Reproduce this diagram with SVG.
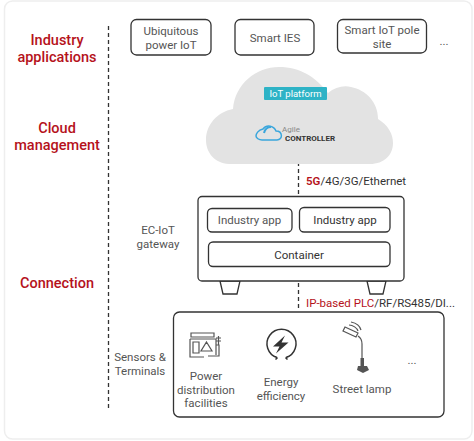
<svg xmlns="http://www.w3.org/2000/svg" width="474" height="441" viewBox="0 0 474 441">
<style>
text{font-family:Roboto,"Noto Sans","Liberation Sans",sans-serif;text-anchor:middle}
.h{font-size:14.500px;font-weight:500;fill:#b5121b}
.t{font-size:11.500px;fill:#555}
.d{font-size:11.500px;fill:#333}
.b{fill:#fff;stroke:#333;stroke-width:1.300}
.c{fill:none;stroke:#333;stroke-width:1.300;stroke-dasharray:4 3}
.i{fill:none;stroke:#555;stroke-width:1.200}
</style>
<rect x="4.500" y="1" width="467.500" height="438" rx="8" fill="#fff" stroke="#eee" stroke-width="1.500"/>
<g id="labels">
<text class="h" x="57" y="45">Industry</text><text class="h" x="57" y="62">applications</text>
<text class="h" x="57" y="133">Cloud</text><text class="h" x="57" y="150">management</text>
<text class="h" x="57" y="288">Connection</text>
<text class="t" x="158" y="234">EC-IoT</text><text class="t" x="158" y="247.500">gateway</text>
<text class="t" x="140" y="361">Sensors &amp;</text><text class="t" x="140" y="375">Terminals</text>
</g>
<g id="connectors">
<path class="c" d="M108.500 26V411"/>
<path class="c" d="M298.500 162V196"/>
<path class="c" d="M298.500 283V310"/>
</g>
<g id="ubiquitous"><rect class="b" x="131" y="19.500" width="80" height="35.500" rx="5.500"/><text class="t" x="171" y="35">Ubiquitous</text><text class="t" x="171" y="49">power IoT</text></g>
<g id="ies"><rect class="b" x="235" y="19.500" width="79" height="35.500" rx="5.500"/><text class="t" x="275" y="42">Smart IES</text></g>
<g id="pole"><rect class="b" x="337.500" y="19.500" width="89" height="33.500" rx="5.500"/><text class="t" x="382" y="34">Smart IoT pole</text><text class="t" x="382" y="48">site</text></g>
<text class="t" x="444" y="45">...</text>
<g id="cloud">
<path fill="#e3e3e3" d="M229 164C214 163 206 152 206 140C206 125 217 112 233 109C235 84 256 67 279 67C300 67 316 77 328 93C335 87 344 85 351 87C366 90 378 102 378 119C388 125 393 134 393 143C393 155 384 164 370 164Z"/>
<rect x="264" y="87" width="63" height="13" rx="1" fill="#2eb3c6"/>
<text x="295.500" y="97" style="font-size:9.500px;fill:#fff">IoT platform</text>
<path fill="none" stroke="#3aa6dc" stroke-width="1.500" d="M262 140H277C283 140 283 131 276 131C274 126 267 124 263 129C258 130 256 134 256 136C256 138 259 140 262 140Z"/>
<path fill="none" stroke="#3aa6dc" stroke-width="2" d="M264 133C265 129 268 127 271 127"/>
<text x="291" y="132" style="font-size:8px;fill:#888">Agile</text>
<text x="310" y="140.500" style="font-size:8px;font-weight:700;fill:#333">CONTROLLER</text>
</g>
<text x="306" y="185" style="font-size:11.500px;text-anchor:start;fill:#333"><tspan fill="#b5121b" font-weight="600">5G</tspan>/4G/3G/Ethernet</text>
<g id="gateway">
<path class="b" d="M220 281L223 294H237L240 281ZM367 281L370 294H383L386 281Z"/>
<rect class="b" x="198" y="196.500" width="206" height="84.500" rx="4"/>
<rect class="b" x="207.500" y="208.500" width="84.500" height="23.500" rx="4.500"/><text class="t" x="249.500" y="224">Industry app</text>
<rect class="b" x="299.500" y="207.500" width="90.500" height="24.500" rx="4.500"/><text class="d" x="345" y="224">Industry app</text>
<rect class="b" x="208.500" y="242" width="181.500" height="24.500" rx="4.500"/><text class="d" x="299" y="259">Container</text>
</g>
<text x="306" y="307" style="font-size:11.500px;text-anchor:start;fill:#333"><tspan fill="#b5121b">IP-based PLC</tspan>/RF/RS485/DI...</text>
<g id="terminals">
<rect class="b" x="173.500" y="312" width="270.500" height="105" rx="6"/>
<g id="power">
<path class="i" d="M191 333H214V337H191ZM190 339H216V355M190 339V357H204M193 342H199V353H193ZM206.500 342L212 351H201ZM216 345H219V356H208M218.500 336V345M216 338H221M216 341H221"/>
<text class="t" x="206" y="380">Power</text><text class="t" x="206" y="393.500">distribution</text><text class="t" x="206" y="407">facilities</text>
</g>
<g id="energy">
<path fill="none" stroke="#333" stroke-width="1.500" d="M277 357.500A14.500 14.500 0 1 1 286 357.500M275 356.500L277 358L275.500 359.500M288 356.500L286 358L287.500 359.500"/>
<path fill="#333" d="M285 335.500L273 346.500H279.500L276 353.500L288.500 342.500H281.500Z"/>
<text class="t" x="281" y="386">Energy</text><text class="t" x="281" y="400">efficiency</text>
</g>
<g id="lamp">
<path class="i" d="M345 327L358 333L356 337L343 331ZM358 336C361 338 362 340 362 344V358M349 325C353 325 357 328 358 331M351 322C356 323 360 326 361 330"/>
<path fill="#555" d="M360.500 358H364V366H360.500ZM358 366H367L369 370L363 373L357 370Z"/>
<text class="t" x="362" y="393">Street lamp</text>
</g>
<text class="t" x="412" y="364">...</text>
</g>
</svg>
